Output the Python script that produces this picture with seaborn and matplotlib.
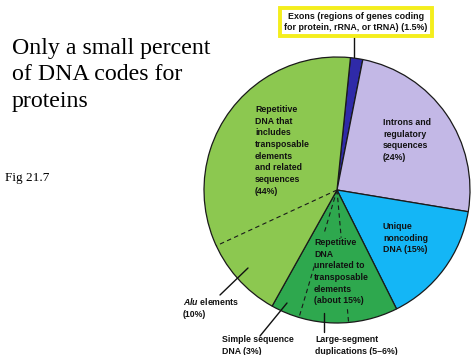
import numpy as np
import matplotlib
matplotlib.use("Agg")
import matplotlib.pyplot as plt
import seaborn as sns

sns.set_style("white")
plt.rcParams['font.family'] = ['Liberation Sans', 'DejaVu Sans']
plt.rcParams['mathtext.fontset'] = 'custom'
plt.rcParams['mathtext.it'] = 'Liberation Sans:italic:bold'

# main slices, clockwise from the exon wedge
slices = ["Exons", "Introns", "Unique", "Unrelated", "Transposable"]
shares = [1.5, 24.5, 15.0, 15.5, 43.5]
colors = ["#2f2aa8", "#c3b8e6", "#14b6f6", "#2ea84e", "#8cc850"]

# dashed sub-divisions (cumulative percent where a dashed radius is drawn)
sub_names = ["Large-segment start", "Simple sequence start", "Alu end"]
sub_cum = [47.0, 53.0, 66.5]
# parts of each radius left visible (the label sits over the rest)
sub_parts = [[(0, 0.36), (0.9, 1)], [(0, 0.34), (0.6, 1)], [(0, 1)]]

fig = plt.figure(figsize=(4.74, 3.55), dpi=100)
ax = fig.add_axes([0, 0, 1, 1])

cx, cy, r = 337, 165, 133
start = 84.2
ax.pie(shares, colors=colors, startangle=start, counterclock=False,
       center=(cx, cy), radius=r, frame=True,
       wedgeprops=dict(edgecolor="#1a1a1a", linewidth=0.9))
ax.set_xlim(0, 474)
ax.set_ylim(0, 355)
ax.set_aspect("equal")
ax.axis("off")

for c, parts in zip(sub_cum, sub_parts):
    ang = np.deg2rad(start - c * 3.6)
    for a, b in parts:
        ax.plot([cx + a * r * np.cos(ang), cx + b * r * np.cos(ang)],
                [cy + a * r * np.sin(ang), cy + b * r * np.sin(ang)],
                ls=(0, (4, 3)), color="#1a1a1a", lw=0.8, zorder=3)

def Y(y):
    return 355 - y

lab = dict(fontsize=6.3, fontweight="bold", color="#111111", ha="left",
           va="top", linespacing=1.38, zorder=5)

ax.text(255, Y(105), "Repetitive\nDNA that\nincludes\ntransposable\nelements\nand related\nsequences\n(44%)", **lab)
ax.text(383, Y(118), "Introns and\nregulatory\nsequences\n(24%)", **lab)
ax.text(383, Y(222), "Unique\nnoncoding\nDNA (15%)", **lab)
ax.text(314, Y(238), "Repetitive\nDNA\nunrelated to\ntransposable\nelements\n(about 15%)", **lab)

# outside labels
ax.text(183, Y(296), r"$\mathit{Alu}$ elements" + "\n(10%)", **lab)
ax.plot([220, 248], [Y(295), Y(268)], color="#111111", lw=1.0, zorder=4)
ax.text(222, Y(335), "Simple sequence\nDNA (3%)", **lab)
ax.plot([260, 287], [Y(336), Y(303)], color="#111111", lw=1.0, zorder=4)
ax.text(315, Y(335), "Large-segment\nduplications (5\u20136%)", **lab)
ax.plot([324, 324], [Y(313), Y(332)], color="#111111", lw=1.0, zorder=4)

# exon callout box
ax.text(356, Y(22), "Exons (regions of genes coding\nfor protein, rRNA, or tRNA) (1.5%)",
        fontsize=6.4, fontweight="bold", color="#111111", ha="center", va="center",
        linespacing=1.15, zorder=5,
        bbox=dict(facecolor="white", edgecolor="#f4ee1c", linewidth=2.8,
                  boxstyle="square,pad=0.5"))
ax.plot([354, 354], [Y(37), Y(57)], color="#111111", lw=1.0, zorder=4)

# slide text
ax.text(12, Y(75), "Only a small percent\nof DNA codes for\nproteins",
        family="Liberation Serif", fontsize=17.2, color="black",
        ha="left", va="center", linespacing=1.36)
ax.text(5, Y(178), "Fig 21.7", family="Liberation Serif", fontsize=9.5,
        color="black", ha="left", va="center")

fig.savefig("out.png", dpi=100)
